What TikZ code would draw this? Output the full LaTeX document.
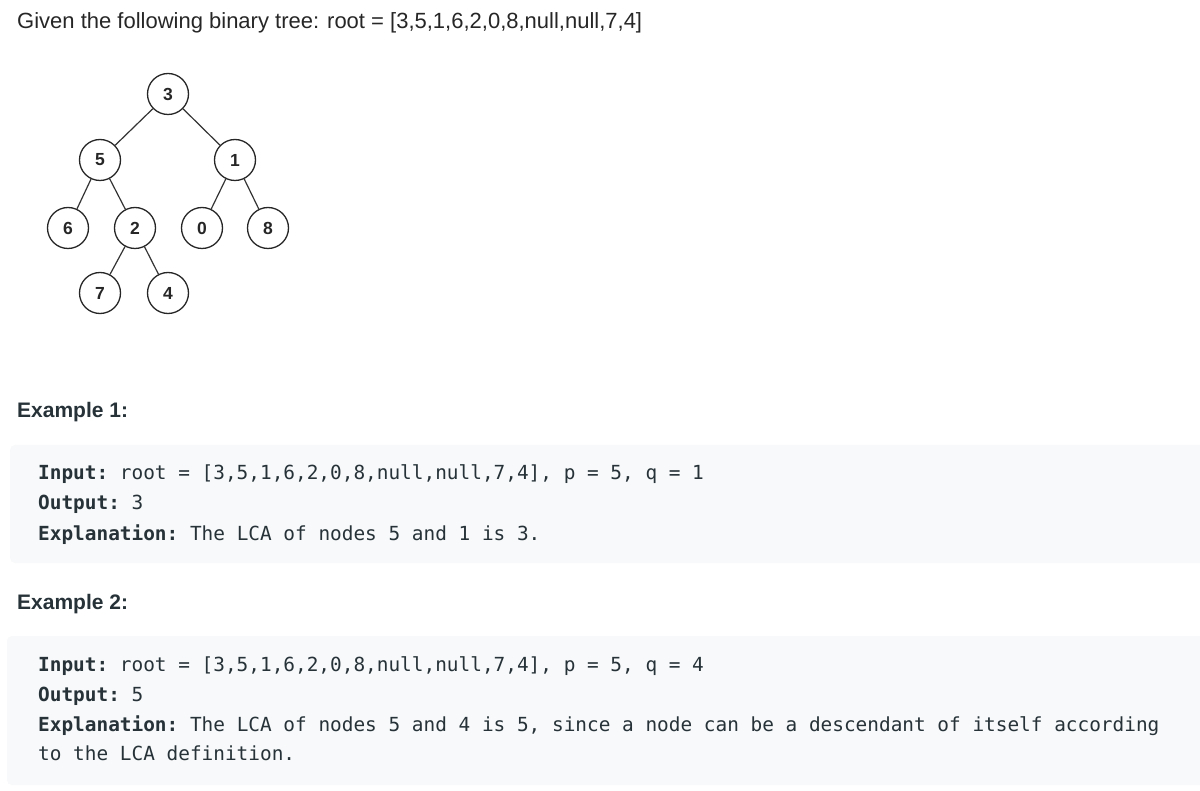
\documentclass[tikz,border=0pt]{standalone}
\usepackage{fontspec}
\setmainfont{Liberation Sans}
\setmonofont{DejaVu Sans Mono}
\definecolor{codebg}{HTML}{F7F9FA}
\definecolor{codefg}{HTML}{263238}
\definecolor{inkgray}{HTML}{262626}

\begin{document}
\begin{tikzpicture}[x=1pt,y=-1pt]
\tikzstyle{treenode} =[circle,draw=black!85,line width=1.3pt,minimum size=41pt,inner sep=0pt,text=black!85,font=\bfseries\fontsize{17.5}{17.5}\selectfont]
\tikzstyle{treeedge} =[draw=black!80,line width=1.2pt]
\tikzstyle{codebox} =[fill=codebg,rounded corners=5pt]
\tikzstyle{codeline} =[anchor=base west,inner sep=0pt,text=codefg,font=\ttfamily\fontsize{19.4}{19.4}\selectfont]
\tikzstyle{heading} =[anchor=base west,inner sep=0pt,text=codefg,font=\bfseries\fontsize{21}{21}\selectfont]
\useasboundingbox (0,0) rectangle (1200,791);
\clip (0,0) rectangle (1200,791);

\node[anchor=base west,inner sep=0pt,text=inkgray,font=\fontsize{22}{22}\selectfont](title) at (17,29)
  {Given the following binary tree:\hspace{8pt}root = [3,5,1,6,2,0,8,null,null,7,4]};

% the tree
\node[treenode](n3) at (168,94){3};
\node[treenode](n5) at (100,160){5};
\node[treenode](n1) at (235,160){1};
\node[treenode](n6) at (68,228){6};
\node[treenode](n2) at (135,228){2};
\node[treenode](n0) at (202,228){0};
\node[treenode](n8) at (268,228){8};
\node[treenode](n7) at (100,293){7};
\node[treenode](n4) at (168,293){4};

\draw[treeedge] (n3)--(n5);
\draw[treeedge] (n3)--(n1);
\draw[treeedge] (n5)--(n6);
\draw[treeedge] (n5)--(n2);
\draw[treeedge] (n1)--(n0);
\draw[treeedge] (n1)--(n8);
\draw[treeedge] (n2)--(n7);
\draw[treeedge] (n2)--(n4);

% example 1
\node[heading](ex1) at (17,418){Example 1:};
\fill[codebox] (10,445) rectangle (1210,563);
\node[codeline](in1) at (38,480){\textbf{Input:} root = [3,5,1,6,2,0,8,null,null,7,4], p = 5, q = 1};
\node[codeline](out1) at (38,510){\textbf{Output:} 3};
\node[codeline](expl1) at (38,540){\textbf{Explanation:} The LCA of nodes 5 and 1 is 3.};

% example 2
\node[heading](ex2) at (17,609){Example 2:};
\fill[codebox] (7,636) rectangle (1210,785);
\node[codeline](in2) at (38,671){\textbf{Input:} root = [3,5,1,6,2,0,8,null,null,7,4], p = 5, q = 4};
\node[codeline](out2) at (38,701){\textbf{Output:} 5};
\node[codeline](expl2) at (38,731){\textbf{Explanation:} The LCA of nodes 5 and 4 is 5, since a node can be a descendant of itself according};
\node[codeline](expl2b) at (38,760){to the LCA definition.};
\end{tikzpicture}
\end{document}
